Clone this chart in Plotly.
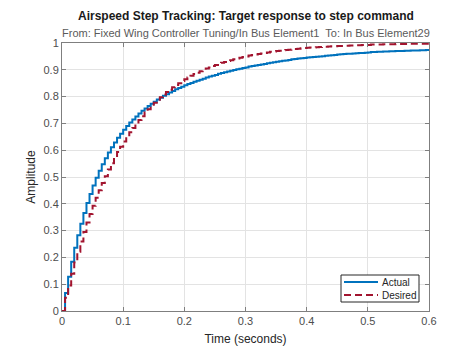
import plotly.graph_objects as go

# Sample time of the discrete step response (seconds)
Ts = 0.005
time = [round(k * Ts, 3) for k in range(121)]

actual = [
    0.000, 0.067, 0.128, 0.184, 0.236, 0.283, 0.326, 0.366, 0.403, 0.437,
    0.468, 0.497, 0.523, 0.548, 0.570, 0.591, 0.611, 0.629, 0.646, 0.661,
    0.676, 0.690, 0.703, 0.715, 0.726, 0.737, 0.747, 0.756, 0.765, 0.773,
    0.781, 0.789, 0.796, 0.803, 0.809, 0.815, 0.821, 0.827, 0.832, 0.837,
    0.842, 0.847, 0.851, 0.855, 0.859, 0.863, 0.867, 0.871, 0.875, 0.878,
    0.881, 0.885, 0.888, 0.891, 0.894, 0.896, 0.899, 0.902, 0.904, 0.907,
    0.909, 0.912, 0.914, 0.916, 0.918, 0.920, 0.922, 0.924, 0.926, 0.928,
    0.930, 0.932, 0.934, 0.935, 0.937, 0.939, 0.940, 0.942, 0.943, 0.944,
    0.946, 0.947, 0.948, 0.949, 0.950, 0.951, 0.952, 0.953, 0.954, 0.955,
    0.957, 0.958, 0.959, 0.960, 0.960, 0.961, 0.962, 0.963, 0.963, 0.964,
    0.965, 0.966, 0.966, 0.967, 0.967, 0.968, 0.968, 0.969, 0.969, 0.970,
    0.970, 0.970, 0.971, 0.971, 0.972, 0.972, 0.972, 0.973, 0.973, 0.974,
    0.974,
]

desired = [
    0.000, 0.049, 0.095, 0.139, 0.181, 0.221, 0.259, 0.295, 0.330, 0.362,
    0.393, 0.423, 0.451, 0.478, 0.503, 0.528, 0.551, 0.573, 0.593, 0.613,
    0.632, 0.650, 0.667, 0.683, 0.699, 0.713, 0.727, 0.741, 0.753, 0.765,
    0.777, 0.788, 0.798, 0.808, 0.817, 0.826, 0.835, 0.843, 0.850, 0.858,
    0.865, 0.871, 0.878, 0.884, 0.889, 0.895, 0.900, 0.905, 0.909, 0.914,
    0.918, 0.922, 0.926, 0.929, 0.933, 0.936, 0.939, 0.942, 0.945, 0.948,
    0.950, 0.953, 0.955, 0.957, 0.959, 0.961, 0.963, 0.965, 0.967, 0.968,
    0.970, 0.971, 0.973, 0.974, 0.975, 0.976, 0.978, 0.979, 0.980, 0.981,
    0.982, 0.983, 0.983, 0.984, 0.985, 0.986, 0.986, 0.987, 0.988, 0.988,
    0.989, 0.989, 0.990, 0.990, 0.991, 0.991, 0.992, 0.992, 0.993, 0.993,
    0.993, 0.994, 0.994, 0.994, 0.994, 0.995, 0.995, 0.995, 0.995, 0.996,
    0.996, 0.996, 0.996, 0.996, 0.997, 0.997, 0.997, 0.997, 0.997, 0.997,
    0.998,
]

series_names = ["Actual", "Desired"]
series_colors = ["#0072BD", "#A2142F"]
series_dash = ["solid", "7px,4px"]

x_ticks = [0, 0.1, 0.2, 0.3, 0.4, 0.5, 0.6]
y_ticks = [0, 0.1, 0.2, 0.3, 0.4, 0.5, 0.6, 0.7, 0.8, 0.9, 1]

title_text = "Airspeed Step Tracking: Target response to step command"
subtitle_text = "From: Fixed Wing Controller Tuning/In Bus Element1  To: In Bus Element29"

FONT = "Liberation Sans, Arial, Helvetica, sans-serif"
W, H = 474, 355
ML, MR, MT, MB = 62, 45, 43, 44
plot_w = W - ML - MR
plot_h = H - MT - MB


def px(pix):  # pixel x -> paper coordinate
    return (pix - ML) / plot_w


def py(pix):  # pixel y from top -> paper coordinate
    return (H - MB - pix) / plot_h


fig = go.Figure()
for name, yvals, col, dsh in zip(series_names, [actual, desired], series_colors, series_dash):
    fig.add_trace(go.Scatter(
        x=time, y=yvals, name=name, mode="lines",
        line=dict(color=col, width=2, shape="hv", dash=dsh),
    ))

axis_common = dict(
    showgrid=True, gridcolor="#e3e3e3", gridwidth=1,
    showline=True, linecolor="#7f7f7f", linewidth=1, mirror="ticks",
    ticks="inside", ticklen=4, tickcolor="#7f7f7f",
    tickfont=dict(family=FONT, size=11, color="#4d4d4d"),
    zeroline=False, automargin=False,
)

fig.update_layout(
    width=W, height=H,
    margin=dict(l=ML, r=MR, t=MT, b=MB),
    paper_bgcolor="white", plot_bgcolor="white",
    font=dict(family=FONT, color="#262626"),
    showlegend=False,
    xaxis=dict(
        range=[0, 0.6], tickvals=x_ticks,
        ticktext=[str(v) for v in x_ticks],
        title=dict(text="Time (seconds)", font=dict(family=FONT, size=12, color="#262626"), standoff=8),
        **axis_common,
    ),
    yaxis=dict(
        range=[0, 1], tickvals=y_ticks,
        ticktext=[str(v) for v in y_ticks],
        title=dict(text="Amplitude", font=dict(family=FONT, size=12, color="#262626"), standoff=5),
        **axis_common,
    ),
)

fig.add_annotation(text="<b>" + title_text + "</b>", x=px(245.5), y=py(16),
                   xref="paper", yref="paper", showarrow=False,
                   xanchor="center", yanchor="middle",
                   font=dict(family=FONT, size=12, color="#1a1a1a"))
fig.add_annotation(text=subtitle_text, x=px(245.5), y=py(33),
                   xref="paper", yref="paper", showarrow=False,
                   xanchor="center", yanchor="middle",
                   font=dict(family=FONT, size=11, color="#5a5a5a"))

# Compact MATLAB-style legend box (lower right)
fig.add_shape(type="rect", xref="paper", yref="paper",
              x0=px(341), x1=px(419), y0=py(302), y1=py(275),
              line=dict(color="#262626", width=1), fillcolor="white", layer="above")
for i, (name, col, dsh) in enumerate(zip(series_names, series_colors, series_dash)):
    yy = py(282 + i * 13)
    fig.add_shape(type="line", xref="paper", yref="paper",
                  x0=px(344), x1=px(378), y0=yy, y1=yy,
                  line=dict(color=col, width=2, dash=dsh), layer="above")
    fig.add_annotation(text=name, x=px(380), y=yy, xref="paper", yref="paper",
                       showarrow=False, xanchor="left", yanchor="middle",
                       font=dict(family=FONT, size=10, color="#262626"))

fig.write_html("out.html", config={"displayModeBar": False},
               post_script="document.body.style.margin='0';")
